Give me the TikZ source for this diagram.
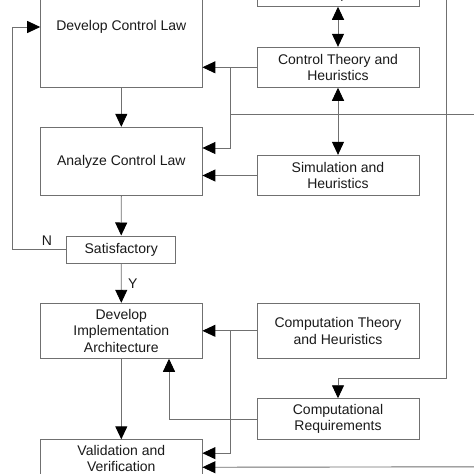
\documentclass[tikz,border=0pt]{standalone}
\usepackage{fontspec}
\setmainfont{Liberation Sans}
\usetikzlibrary{arrows.meta}
\definecolor{linegray}{HTML}{707070}
\definecolor{textdark}{HTML}{1A1A1A}

\begin{document}
\begin{tikzpicture}[x=1pt,y=-1pt,
  font=\fontsize{14}{16.4}\selectfont,
  stagebox/.style={draw=linegray,line width=0.9pt,align=center,inner sep=0pt,text=textdark,
    minimum width=161.3pt},
  wire/.style={draw=linegray,line width=0.9pt},
  flow/.style={wire,-{Triangle[length=13pt,width=12pt,color=black]}},
  twoway/.style={wire,{Triangle[length=13pt,width=12pt,color=black]}-{Triangle[length=13pt,width=12pt,color=black]}}]
\useasboundingbox (0,0) rectangle (474,474);
\clip (0,0) rectangle (474,474);
\fill[white] (0,0) rectangle (474,474);
% left column
\node[stagebox,minimum height=120pt] (dcl) at (121.3,27) {Develop Control Law};
\node[stagebox,minimum height=68.4pt] (acl) at (121.3,161.5) {Analyze Control Law};
\node[stagebox,minimum width=109pt,minimum height=27.7pt] (sat) at (121.2,249.8) {Satisfactory};
\node[stagebox,minimum height=55pt] (dia) at (121.3,330.8) {Develop\\Implementation\\Architecture};
\node[stagebox,minimum height=55pt,anchor=north] (vv) at (121.3,439.3) {};
\node[anchor=north,align=center,inner sep=0pt,text=textdark] (vvtext) at ([yshift=-5.5pt]vv.north) {Validation and\\Verification};
% right column
\node[stagebox,minimum width=162pt,minimum height=40pt] (spec) at (338,-13.7) {Plant Model\\Development};
\node[stagebox,minimum width=162pt,minimum height=40pt] (ctl) at (338,67.3) {Control Theory and\\Heuristics};
\node[stagebox,minimum width=162pt,minimum height=40.4pt] (sim) at (338,175.5) {Simulation and\\Heuristics};
\node[stagebox,minimum width=162pt,minimum height=55pt] (cth) at (338,330.8) {Computation Theory\\and Heuristics};
\node[stagebox,minimum width=162pt,minimum height=40.6pt] (creq) at (338,419) {Computational\\Requirements};
% junctions and free ends
\coordinate (j1) at (230,67.3);
\coordinate (bus) at (230,114);
\coordinate (busend) at (480,114);
\coordinate (fb) at (12.7,249.8);
\coordinate (j2) at (230,330.8);
\coordinate (rtop) at (446.7,-5);
\coordinate (rturn) at (446.7,378.3);
\coordinate (vvin) at (480,466.8);
% connectors
\draw[twoway] (spec.south) -- (ctl.north);
\draw[flow] (dcl.south) -- (acl.north);
\draw[flow] (ctl.west) -- (dcl.east |- ctl.west);
\draw[wire] (j1) -- (bus) -- (busend);
\draw[flow] (bus) |- ([yshift=13.5pt]acl.east);
\draw[flow] (ctl.south |- bus) -- (ctl.south);
\draw[flow] (ctl.south |- bus) -- (sim.north);
\draw[flow] (sim.west) -- (acl.east |- sim.west);
\draw[flow] (acl.south) -- (sat.north);
\draw[flow] (sat.west) -- (fb) |- (dcl.west);
\node[text=textdark] (no) at (47,240.7) {N};
\draw[flow] (sat.south) -- node[right=3pt,pos=0.5,text=textdark] (yes) {Y} (dia.north);
\draw[flow] (cth.west) -- (dia.east);
\draw[flow] (j2) |- ([yshift=14.1pt]vv.east);
\draw[flow] (creq.west) -| ([xshift=47.7pt]dia.south);
\draw[flow] (dia.south) -- (vv.north);
\draw[flow] (rtop) -- (rturn) -| (creq.north);
\draw[flow] (vvin) -- (vv.east);
\end{tikzpicture}
\end{document}
